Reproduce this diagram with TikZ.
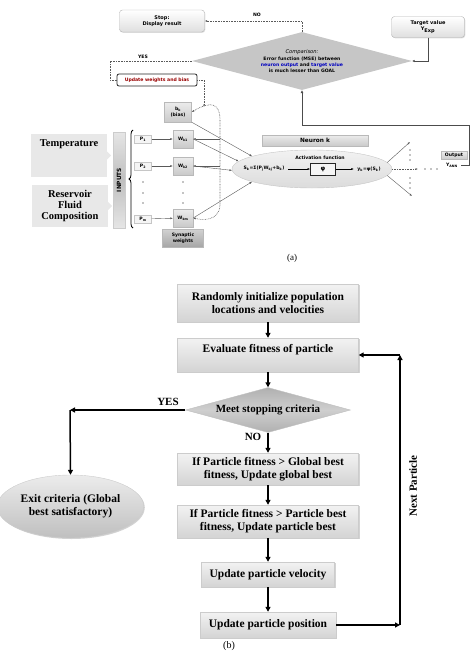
\documentclass[tikz,border=0pt]{standalone}
\usepackage{fontspec}
\setmainfont{Liberation Serif}
\newfontfamily\vfont{DejaVu Sans}
\usetikzlibrary{positioning, arrows.meta, shapes.geometric, shadows, decorations.pathreplacing}

\tikzset{
  smalltxt/.style={font=\vfont\bfseries\fontsize{4.6}{5.6}\selectfont},
  rbox/.style={smalltxt, draw=gray!60, rounded corners=3pt, top color=white, bottom color=gray!25, align=center, inner sep=1pt, drop shadow={opacity=0.25, shadow xshift=0.8pt, shadow yshift=-0.8pt}},
  wbox/.style={smalltxt, draw=gray!55, top color=gray!15, bottom color=gray!42, align=center, inner sep=1pt},
  pbox/.style={smalltxt, draw=gray!45, fill=gray!8, inner sep=0.5pt, minimum width=17, minimum height=8},
  ibox/.style={fill=gray!18, font=\bfseries\fontsize{10.5}{11}\selectfont, align=center, minimum width=76},
  aline/.style={draw=black!65, line width=0.4pt, -{Latex[length=2.5pt,width=2pt]}},
  dotl/.style={draw=black!65, line width=0.6pt, dash pattern=on 0.7pt off 0.9pt},
  fbl/.style={draw=black!70, line width=0.9pt},
  flowfont/.style={font=\bfseries\fontsize{11.5}{13}\selectfont},
  flow/.style={flowfont, draw=gray!40, top color=gray!10, bottom color=gray!34, align=center, inner sep=2pt, drop shadow={opacity=0.35, shadow xshift=1pt, shadow yshift=-1pt}},
  barrow/.style={line width=1.5pt, -{Triangle[length=5pt,width=5pt]}},
  blabel/.style={font=\bfseries\fontsize{11}{13}\selectfont}
}

\begin{document}
\begin{tikzpicture}[x=1pt, y=-1pt]
  \useasboundingbox (0,0) rectangle (474,653);

  \node[rbox, minimum width=85, minimum height=22, font=\vfont\bfseries\fontsize{5}{6}\selectfont] (stop) at (162,21) {Stop:\\Display result};
  \node[rbox, minimum width=73, minimum height=21, font=\vfont\bfseries\fontsize{5}{6}\selectfont] (target) at (428,27) {Target value\\Y\textsubscript{Exp}};
  \node[diamond, fill=gray!45, aspect=3.8, minimum width=220, minimum height=58, inner sep=0pt, smalltxt, align=center] (cmp) at (302,61)
       {{\fontsize{5.2}{6}\selectfont\mdseries\itshape Comparison:}\\[1.5pt]
        Error function (MSE) between\\
        \textcolor{blue!75!black}{neuron output} and \textcolor{blue!75!black}{target value}\\
        is much lesser than GOAL};

  \node[smalltxt] (no) at (257,15) {NO};
  \node[smalltxt] (yes) at (143,57) {YES};
  \node[draw=black!85, line width=0.8pt, rounded corners=2pt, fill=white, text=red!60!black, smalltxt, minimum width=80, minimum height=12] (upd) at (157,80) {Update weights and bias};

  \coordinate (yesc) at (110,61);
  \coordinate (lptop) at (204,107);
  \coordinate (lpr) at (220,160);

  \draw[dotl, -{Latex[length=2.5pt,width=2pt]}] (cmp.north) |- (stop.east);
  \draw[dotl] (cmp.west) -- (yesc) |- (upd.west);
  \draw[dotl, -{Latex[length=2.5pt,width=2pt]}] (upd.east) -| (lptop);
  \draw[fbl, -{Latex[length=2.5pt,width=2.5pt]}] (target.south) |- (cmp.east);

  \node[ibox, minimum height=43, text depth=25pt, inner ysep=4pt] (temp) at (69,155.5) {Temperature};
  \node[ibox, minimum height=42] (res) at (70,206) {Reservoir\\Fluid\\Composition};
  \fill[gray!18] ([yshift=4pt]temp.east) -- ([xshift=4pt]temp.east) -- ([yshift=-4pt]temp.east) -- cycle;
  \fill[gray!18] ([yshift=4pt]res.east) -- ([xshift=4pt]res.east) -- ([yshift=-4pt]res.east) -- cycle;
  \node[rotate=90, minimum width=96, minimum height=12, top color=gray!20, bottom color=gray!20, middle color=gray!50, draw=gray!40, font=\vfont\bfseries\fontsize{5.8}{6}\selectfont, inner sep=0pt] (inputs) at (119,180) {INPUTS};
  \draw[line width=0.8pt, decorate, decoration={brace, amplitude=4pt}] (133,228) -- (133,130);

  \node[pbox] (p1) at (143,139) {P\textsubscript{1}};
  \node[pbox] (p2) at (143,166) {P\textsubscript{2}};
  \node[pbox] (pm) at (143,219) {P\textsubscript{m}};

  \node[wbox, minimum width=27, minimum height=20] (bias) at (178,112) {b\textsubscript{k}\\(bias)};
  \node[wbox, minimum width=20, minimum height=18] (wk1) at (183,139) {W\textsubscript{k1}};
  \node[wbox, minimum width=20, minimum height=18] (wk2) at (183,166) {W\textsubscript{k2}};
  \node[wbox, minimum width=20, minimum height=18] (wkm) at (183,218) {W\textsubscript{km}};
  \node[wbox, top color=gray!35, bottom color=gray!70, minimum width=41, minimum height=18] (syn) at (183,238) {Synaptic\\weights};

  \foreach \y in {182,193,203} {
    \fill (143,\y) circle (0.7);
    \fill (183,\y) circle (0.7);
  }

  \draw[aline] (p1) -- (wk1);
  \draw[aline] (p2) -- (wk2);
  \draw[aline] (pm) -- (wkm);

  \draw[dotl, {Latex[length=2.5pt,width=2pt]}-{Latex[length=2.5pt,width=2pt]}] (bias.east)
        .. controls (212,100) and (220,104) .. (220,120) -- (220,205)
        .. controls (220,216) and (210,222) .. (wkm.east);
  \draw[aline] (lpr |- wk1.east) -- (wk1.east);
  \draw[aline] (lpr |- wk2.east) -- (wk2.east);

  \node[ellipse, draw=gray!45, top color=gray!10, bottom color=gray!28, minimum width=160, minimum height=38, inner sep=0pt] (neur) at (312,169) {};
  \node[wbox, minimum width=106, minimum height=11, font=\vfont\bfseries\fontsize{5.8}{6}\selectfont] (nk) at (315,140.5) {Neuron k};

  \draw[aline] (bias.south east) -- (neur.168);
  \draw[aline] (wk1.east) -- (neur.174);
  \draw[aline] (wk2.east) -- (neur.181);
  \draw[aline] (wkm.east) -- (neur.192);

  \node[smalltxt] (sk) at (264,169) {S\textsubscript{k}=Σ(P\textsubscript{j}W\textsubscript{kj}+b\textsubscript{k})};
  \node[smalltxt] (act) at (320,158) {Activation function};
  \node[draw=black!85, line width=0.8pt, minimum width=25, minimum height=12, inner sep=0pt, fill=gray!8, font=\vfont\bfseries\fontsize{6}{7}\selectfont] (phi) at (323,169) {φ};
  \node[smalltxt] (yk) at (369,169) {y\textsubscript{k}=φ(S\textsubscript{k})};
  \draw[aline, draw=black] (sk) -- (phi);
  \draw[aline, draw=black] (phi) -- (yk);

  \coordinate (o1) at (410,142);
  \coordinate (o2) at (418,169);
  \coordinate (o3) at (412,196);
  \draw[aline] (neur.5) -- (o1);
  \draw[aline, dotl] (neur.east) -- (o2);
  \draw[aline] (neur.-5) -- (o3);
  \foreach \y in {150,155,160,178,183,188} \fill (410,\y) circle (0.6);
  \foreach \x in {425,431,437} \fill (\x,169) circle (0.7);

  \node[wbox, minimum width=26, minimum height=8, inner sep=0.5pt] (outp) at (454,155.5) {Output};
  \node[smalltxt] (yann) at (452,165) {Y\textsubscript{ANN}};
  \coordinate (fbr) at (469,125);
  \draw[fbl, -{Latex[length=3pt,width=3pt]}] (yann.east) -| (fbr) -| (cmp.south);

  \node[font=\fontsize{9}{10}\selectfont] (lba) at (292,258) {(a)};

  \node[flow, minimum width=181, minimum height=38] (init) at (268,303) {Randomly initialize population\\locations and velocities};
  \node[flow, minimum width=181, minimum height=34, text depth=14pt] (eval) at (268,355) {Evaluate fitness of particle};
  \node[diamond, aspect=3.67, minimum width=165, minimum height=45, inner sep=0pt, draw=gray!50, top color=gray!62, bottom color=gray!62, middle color=gray!38, blabel] (meet) at (268,410) {Meet stopping criteria};
  \node[flow, minimum width=181, minimum height=32] (glob) at (268,469) {If Particle fitness > Global best\\fitness, Update global best};
  \node[flow, minimum width=181, minimum height=33] (pbest) at (268,521.5) {If Particle fitness > Particle best\\fitness, Update particle best};
  \node[flow, minimum width=133, minimum height=25] (vel) at (268,574.5) {Update particle velocity};
  \node[flow, minimum width=136, minimum height=26] (pos) at (268,625) {Update particle position};
  \node[ellipse, flow, minimum width=137, minimum height=63, top color=gray!15, bottom color=gray!50] (exit) at (70.5,506.5) {Exit criteria (Global\\best satisfactory)};

  \draw[barrow] (init) -- (eval);
  \draw[barrow] (eval) -- (meet);
  \draw[barrow] (meet) -- (glob);
  \draw[barrow] (glob) -- (pbest);
  \draw[barrow] (pbest) -- (vel);
  \draw[barrow] (vel) -- (pos);

  \node[blabel] (yesl) at (168,402) {YES};
  \node[blabel] (nol) at (253,437) {NO};
  \coordinate (yesb) at (70,410);
  \draw[barrow] (meet.west) -- (yesb);
  \draw[barrow] (yesb) -- (exit.north);

  \coordinate (npt) at (400,355);
  \draw[barrow] (pos.east) -- (pos.east -| npt);
  \draw[barrow] (pos.east -| npt) -- (npt);
  \draw[barrow] (npt) -- (eval.east);
  \node[blabel, rotate=90] (nextp) at (413,486) {Next Particle};

  \node[font=\fontsize{10}{11}\selectfont] (lbb) at (229,646) {(b)};
\end{tikzpicture}
\end{document}
